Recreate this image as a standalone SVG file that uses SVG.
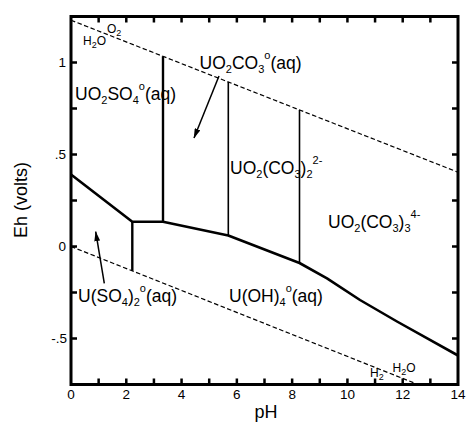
<svg xmlns="http://www.w3.org/2000/svg" width="474" height="431" viewBox="0 0 474 431">
<style>
text{font-family:"Liberation Sans",Arial,Helvetica,sans-serif;fill:#000}
.lab{font-size:17.5px}
.s{font-size:11px}
.sm{font-size:12px}
.ss{font-size:9px}
.tk{font-size:13.5px}
.ax{font-size:18px}
.frame{fill:none;stroke:#000;stroke-width:3}
.tick{fill:none;stroke:#000;stroke-width:2.5}
.water{fill:none;stroke:#000;stroke-width:1.2;stroke-dasharray:4.5 2.5}
.bnd{fill:none;stroke:#000;stroke-width:2.6;stroke-linejoin:round}
.v1{stroke:#000;stroke-width:2.4}
.v2{stroke:#000;stroke-width:1.6}
.arr{fill:none;stroke:#000;stroke-width:1.5}
</style>
<defs>
<marker id="ah" viewBox="0 0 10 6" refX="9.5" refY="3" markerUnits="userSpaceOnUse" markerWidth="10" markerHeight="6" orient="auto">
<path d="M0,0 L10,3 L0,6 z" fill="#000"/>
</marker>
</defs>
<rect id="bg" x="0" y="0" width="474" height="431" fill="#fff"/>
<g id="axes">
<rect class="frame" x="71" y="16.5" width="387" height="368"/>
<path class="tick" d="M98.64,384.5v-6M126.29,384.5v-6M153.93,384.5v-6M181.57,384.5v-6M209.21,384.5v-6M236.86,384.5v-6M264.5,384.5v-6M292.14,384.5v-6M319.79,384.5v-6M347.43,384.5v-6M375.07,384.5v-6M402.71,384.5v-6M430.36,384.5v-6
M98.64,16.5v6M126.29,16.5v6M153.93,16.5v6M181.57,16.5v6M209.21,16.5v6M236.86,16.5v6M264.5,16.5v6M292.14,16.5v6M319.79,16.5v6M347.43,16.5v6M375.07,16.5v6M402.71,16.5v6M430.36,16.5v6
M71,338.5h6M71,292.5h6M71,246.5h6M71,200.5h6M71,154.5h6M71,108.5h6M71,62.5h6
M458,338.5h-6M458,292.5h-6M458,246.5h-6M458,200.5h-6M458,154.5h-6M458,108.5h-6M458,62.5h-6"/>
<g class="tk" text-anchor="middle">
<text x="71" y="399">0</text>
<text x="126.29" y="399">2</text>
<text x="181.57" y="399">4</text>
<text x="236.86" y="399">6</text>
<text x="292.14" y="399">8</text>
<text x="347.43" y="399">10</text>
<text x="402.71" y="399">12</text>
<text x="458" y="399">14</text>
</g>
<g class="tk" text-anchor="end">
<text x="66" y="67.2">1</text>
<text x="66" y="159.2">.5</text>
<text x="66" y="251.2">0</text>
<text x="67" y="343.2">-.5</text>
</g>
<text class="ax" x="266" y="418" text-anchor="middle">pH</text>
<text class="ax" transform="translate(27,200) rotate(-90)" text-anchor="middle">Eh (volts)</text>
</g>
<g id="water-lines">
<path class="water" d="M71,20.2L458,172.2"/>
<path class="water" d="M71,246.5L418,384.5"/>
<text class="sm" x="107" y="33">O<tspan class="ss" dy="3">2</tspan></text>
<text class="sm" x="83" y="45">H<tspan class="ss" dy="3">2</tspan><tspan dy="-3">O</tspan></text>
<text class="sm" x="370" y="377">H<tspan class="ss" dy="3">2</tspan></text>
<text class="sm" x="392.5" y="371.5">H<tspan class="ss" dy="3">2</tspan><tspan dy="-3">O</tspan></text>
</g>
<g id="boundaries">
<polyline class="bnd" points="71,174.5 132.3,221.7 163,221.7 228.3,235.5 299.5,263 327,278.3 360,300 397,321.5 458,355.5"/>
<line class="v1" x1="132.3" y1="221.7" x2="132.3" y2="270.9"/>
<line class="v1" x1="163" y1="56.3" x2="163" y2="221.7"/>
<line class="v2" x1="228.3" y1="82" x2="228.3" y2="235.5"/>
<line class="v2" x1="299.5" y1="109.9" x2="299.5" y2="263"/>
</g>
<g id="UO2SO4"><text class="lab" x="75" y="100">UO<tspan class="s" dy="4">2</tspan><tspan dy="-4">SO</tspan><tspan class="s" dy="4">4</tspan><tspan class="s" dy="-14">o</tspan><tspan dy="10">(aq)</tspan></text></g>
<g id="UO2CO3"><text class="lab" x="199.5" y="69">UO<tspan class="s" dy="4">2</tspan><tspan dy="-4">CO</tspan><tspan class="s" dy="4">3</tspan><tspan class="s" dy="-14">o</tspan><tspan dy="10">(aq)</tspan></text></g>
<g id="UO2CO32"><text class="lab" x="230" y="174">UO<tspan class="s" dy="4">2</tspan><tspan dy="-4">(CO</tspan><tspan class="s" dy="4">3</tspan><tspan dy="-4">)</tspan><tspan class="s" dy="4">2</tspan><tspan class="s" dy="-14">2-</tspan></text></g>
<g id="UO2CO33"><text class="lab" x="328" y="228">UO<tspan class="s" dy="4">2</tspan><tspan dy="-4">(CO</tspan><tspan class="s" dy="4">3</tspan><tspan dy="-4">)</tspan><tspan class="s" dy="4">3</tspan><tspan class="s" dy="-14">4-</tspan></text></g>
<g id="UOH4"><text class="lab" x="229" y="302">U(OH)<tspan class="s" dy="4">4</tspan><tspan class="s" dy="-14">o</tspan><tspan dy="10">(aq)</tspan></text></g>
<g id="USO42"><text class="lab" x="78" y="302">U(SO<tspan class="s" dy="4">4</tspan><tspan dy="-4">)</tspan><tspan class="s" dy="4">2</tspan><tspan class="s" dy="-14">o</tspan><tspan dy="10">(aq)</tspan></text></g>
<g id="connectors">
<line class="arr" x1="219" y1="76" x2="194" y2="138" marker-end="url(#ah)"/>
<line class="arr" x1="104.3" y1="283.3" x2="95.7" y2="231.7" marker-end="url(#ah)"/>
</g>
</svg>
